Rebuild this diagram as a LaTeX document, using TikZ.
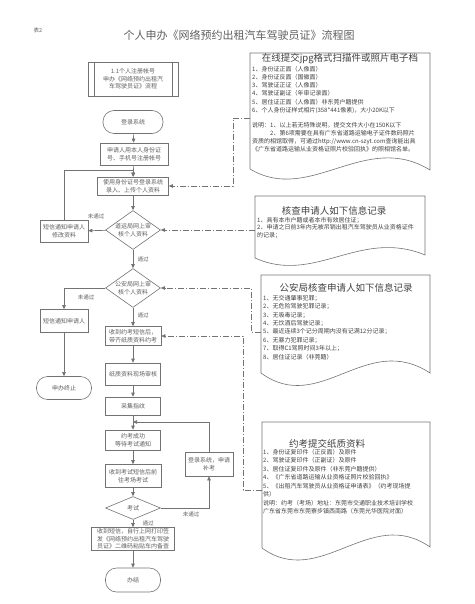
\documentclass[tikz,border=0pt]{standalone}
\usepackage{fontspec}
\setmainfont{Noto Sans CJK SC}
\usetikzlibrary{shapes.geometric,arrows.meta}
\definecolor{linegray}{RGB}{115,115,115}
\definecolor{textgray}{RGB}{95,95,95}
\definecolor{inkgray}{RGB}{65,65,65}
\begin{document}
\begin{tikzpicture}[x=1pt,y=-1pt,
  every node/.style={text=textgray,font=\fontsize{6}{7.6}\selectfont},
  flowbox/.style={draw=linegray,line width=0.6pt,align=center,inner sep=1pt},
  termbox/.style={flowbox,rounded corners=11pt},
  decision/.style={draw=linegray,line width=0.6pt,diamond,aspect=1.41,inner sep=0pt,
    align=center,minimum width=55pt,minimum height=39pt},
  flow/.style={draw=linegray,line width=0.6pt,-{Triangle[length=4pt,width=3.5pt]}},
  dashdot/.style={flow,dash pattern=on 6pt off 2pt on 1pt off 2pt},
  doc/.style={draw=linegray,line width=0.6pt},
  doctitle/.style={text=inkgray,font=\fontsize{9.5}{11}\selectfont},
  docitem/.style={anchor=north west,align=left,inner sep=0pt,text=inkgray,
    font=\fontsize{6}{8.2}\selectfont},
  small/.style={font=\fontsize{5.5}{7}\selectfont}
]
\useasboundingbox (0,0) rectangle (474,604);

\node[small] (tab) at (38,30) {表2};
\node[font=\fontsize{11}{13}\selectfont] (title) at (239,35) {个人申办《网络预约出租汽车驾驶员证》流程图};

% main flow
\node[flowbox,minimum width=90pt,minimum height=34pt] (reg) at (133,79) {1.1个人注册帐号\\申办《网络预约出租汽\\车驾驶员证》流程};
\draw[linegray,line width=0.6pt] ([xshift=6.5pt]reg.north west) -- ([xshift=6.5pt]reg.south west);
\draw[linegray,line width=0.6pt] ([xshift=-6.5pt]reg.north east) -- ([xshift=-6.5pt]reg.south east);
\node[termbox,minimum width=60pt,minimum height=23pt] (login) at (133,122) {登录系统};
\node[flowbox,minimum width=68pt,minimum height=22pt] (signup) at (134,154) {申请人用本人身份证\\号、手机号注册帐号};
\node[flowbox,minimum width=71pt,minimum height=18pt] (upload) at (133,186) {使用身份证号登录系统\\录入、上传个人资料};
\node[decision] (check1) at (133,230) {道运局网上审\\核个人资料};
\node[flowbox,minimum width=48pt,minimum height=22pt] (notify1) at (64,231) {短信通知申请人\\修改资料};
\node[decision] (check2) at (133,288) {公安局网上审\\核个人资料};
\node[flowbox,minimum width=48pt,minimum height=23pt] (notify2) at (64,321) {短信通知申请人};
\node[termbox,minimum width=55pt,minimum height=23pt] (stop) at (64,388) {申办终止};
\node[flowbox,minimum width=56pt,minimum height=19pt] (book) at (133,336) {收到约考短信后，\\带齐纸质资料约考};
\node[flowbox,minimum width=55pt,minimum height=22pt] (paper) at (133,374) {纸质资料现场审核};
\node[flowbox,minimum width=55pt,minimum height=18pt] (finger) at (133,406) {采集指纹};
\node[flowbox,minimum width=55pt,minimum height=20pt] (wait) at (133,440) {约考成功\\等待考试通知};
\node[flowbox,minimum width=56pt,minimum height=23pt] (goexam) at (133,476) {收到考试短信后前\\往考场考试};
\node[decision,minimum height=23pt] (exam) at (133,508) {考试};
\node[flowbox,minimum width=48pt,minimum height=24pt] (retake) at (209,464) {登录系统，申请\\补考};
\node[flowbox,minimum width=83pt,minimum height=23pt] (issue) at (133,539) {收到短信，自行上网打印签\\发《网络预约出租汽车驾驶\\员证》二维码粘贴车内备查};
\node[termbox,minimum width=55pt,minimum height=24pt] (done) at (133,580) {办结};

\coordinate (join1) at (133,170);
\coordinate (join2) at (133,422);

\draw[flow] (login) -- (signup);
\draw[flow] (signup) -- (upload);
\draw[flow] (upload) -- (check1);
\draw[flow] (check1) -- (check2);
\draw[flow] (check2) -- (book);
\draw[flow] (book) -- (paper);
\draw[flow] (paper) -- (finger);
\draw[flow] (finger) -- (wait);
\draw[flow] (wait) -- (goexam);
\draw[flow] (goexam) -- (exam);
\draw[flow] (exam) -- (issue);
\draw[flow] (issue) -- (done);
\draw[flow] (check1) -- (notify1);
\draw[flow] (notify1.north) |- (join1) -- (upload.north);
\draw[flow] (check2.west) -| (notify2.north);
\draw[flow] (notify2) -- (stop);
\draw[flow] (exam.east) -| (retake.south);
\draw[flow] (retake.north) |- (join2);

\node[small] (no1) at (96,216) {未通过};
\node[small] (yes1) at (143,259) {通过};
\node[small] (no2) at (86,297) {未通过};
\node[small] (yes2) at (143,315) {通过};
\node[small] (no3) at (191,514) {未通过};
\node[small] (yes3) at (148,523) {通过};

% online upload
\draw[doc] (250,53) -- (430,53) -- (430,170) .. controls (365,130) and (310,205) .. (250,169) -- cycle;
\node[doctitle] (d1title) at (340,59) {在线提交jpg格式扫描件或照片电子档};
\node[docitem] (d1list) at (252,66) {1、身份证正面（人像面）\\2、身份证反面（国徽面）\\3、驾驶证正证（人像面）\\4、驾驶证副证（年审记录面）\\5、居住证正面（人像面）非东莞户籍提供\\6、个人身份证样式相片(358*441像素)，大小20K以下};
\node[docitem] (d1note) at (252,122) {说明：1、以上若无特殊说明，提交文件大小在150K以下\\\hspace*{18pt}2、第6项需要在具有广东省道路运输电子证件数码照片\\资质的相馆取得，可通过http://www.cn-szyt.com查询能出具\\《广东省道路运输从业资格证照片校验回执》的照相馆名单。};
\coordinate (d1port) at (250,118);

% record check
\draw[doc] (255,196) -- (425,196) -- (425,255) .. controls (360,228) and (315,285) .. (255,258) -- cycle;
\node[doctitle] (d2title) at (334,211) {核查申请人如下信息记录};
\node[docitem,font=\fontsize{6}{7.4}\selectfont] (d2list) at (257,217) {1、具有本市户籍或者本市有效居住证；\\2、申请之日前3年内无被吊销出租汽车驾驶员从业资格证件\\的记录；};
\coordinate (d2port) at (255,230);

% police check
\draw[doc] (261,275) -- (430,275) -- (430,373) .. controls (366,331) and (320,416) .. (261,373) -- cycle;
\node[doctitle] (d3title) at (346,288) {公安局核查申请人如下信息记录};
\node[docitem,font=\fontsize{6}{8.4}\selectfont] (d3list) at (263,295) {1、无交通肇事犯罪；\\2、无危险驾驶犯罪记录；\\3、无吸毒记录；\\4、无饮酒后驾驶记录；\\5、最近连续3个记分周期内没有记满12分记录；\\6、无暴力犯罪记录；\\7、取得C1驾照时间3年以上；\\8、居住证记录（非莞籍）};
\coordinate (d3port) at (261,332);

% paper documents
\draw[doc] (262,422) -- (430,422) -- (430,547) .. controls (370,505) and (320,590) .. (262,548) -- cycle;
\node[doctitle] (d4title) at (327,444) {约考提交纸质资料};
\node[docitem,font=\fontsize{6}{8.5}\selectfont] (d4list) at (263,449) {1、身份证复印件（正反面）及原件\\2、驾驶证复印件（正副证）及原件\\3、居住证复印件及原件（非东莞户籍提供）\\4、《广东省道路运输从业资格证照片校验回执》\\5、《出租汽车驾驶员从业资格证申请表》（约考现场提\\供）\\说明：约考（考场）地址：东莞市交通职业技术培训学校\\广东省东莞市东莞寮步镇西南路（东莞光华医院对面）};
\coordinate (d4port) at (262,490);

\draw[dashdot] (d1port) -- ++(-17,0) |- (upload.east);
\draw[dashdot] (d2port) -- (check1.east);
\draw[dashdot] (d3port) -- ++(-10,0) |- (check2.east);
\draw[dashdot] (d4port) -- ++(-19,0) |- (book.east);
\end{tikzpicture}
\end{document}
